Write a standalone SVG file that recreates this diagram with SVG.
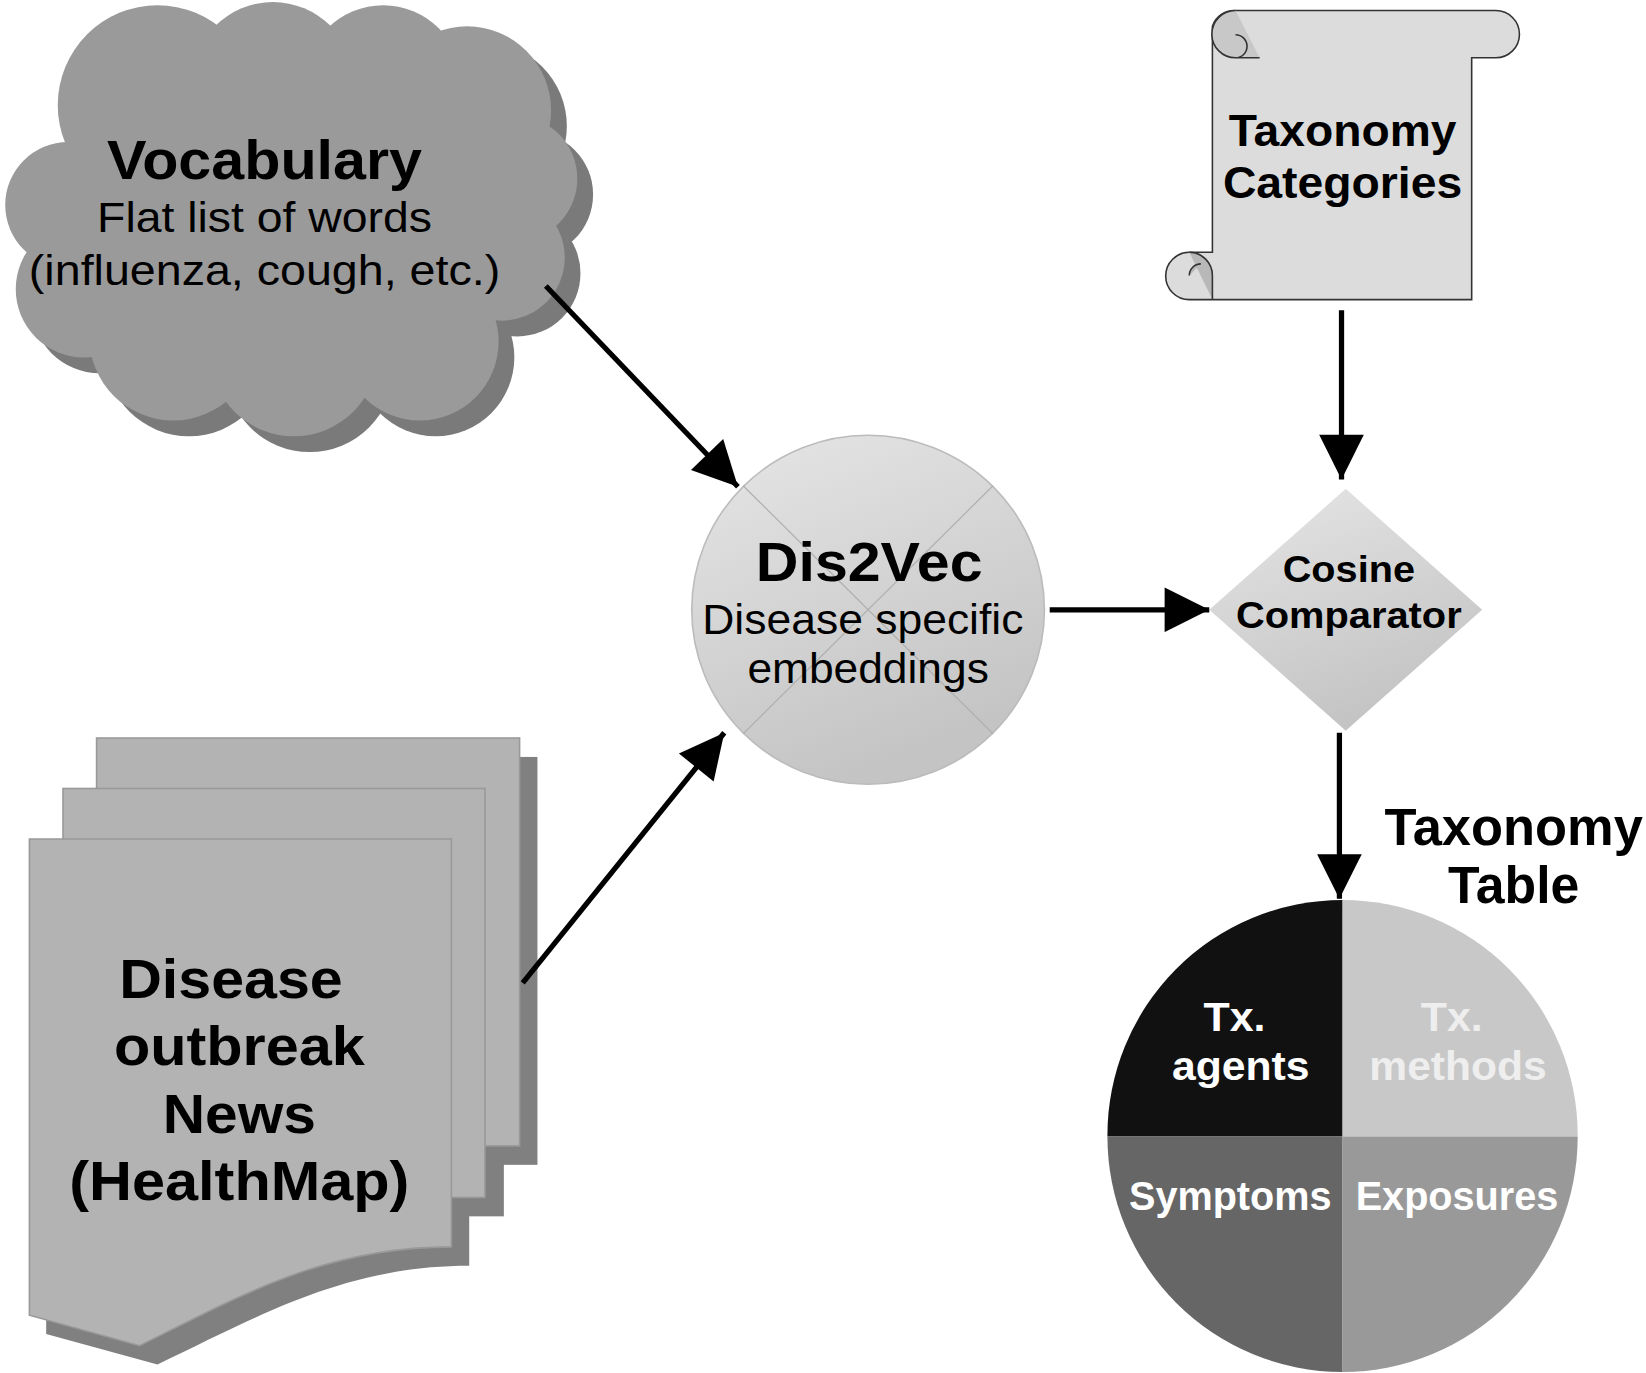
<svg xmlns="http://www.w3.org/2000/svg" width="1646" height="1373" viewBox="0 0 1646 1373">
<style>
text{font-family:"Liberation Sans",Arial,sans-serif;text-anchor:middle}
.b{font-weight:bold}
.ln{stroke:#000;stroke-width:5;fill:none}
.page{fill:#b3b3b3;stroke:#999;stroke-width:1.5}
.sh{fill:#808080}
</style>
<defs>
<marker id="ah" viewBox="0 0 10 10" refX="10" refY="5" markerWidth="9.5" markerHeight="8.5" markerUnits="strokeWidth" orient="auto"><path d="M0,0L10,5L0,10z" fill="#000"/></marker>
<linearGradient id="g1" x1="0" y1="0" x2="0.4" y2="1"><stop offset="0" stop-color="#e6e6e6"/><stop offset="1" stop-color="#c4c4c4"/></linearGradient>
<g id="cloudshape">
<circle cx="150" cy="100" r="95"/><circle cx="260" cy="80" r="78"/><circle cx="365" cy="80" r="75"/><circle cx="445" cy="105" r="80"/><circle cx="490" cy="170" r="60"/><circle cx="478" cy="245" r="60"/><circle cx="400" cy="325" r="75"/><circle cx="280" cy="335" r="80"/><circle cx="165" cy="320" r="80"/><circle cx="80" cy="275" r="65"/><circle cx="65" cy="195" r="60"/><ellipse cx="275" cy="210" rx="220" ry="150"/>
</g>
</defs>
<g transform="scale(1.0497,1.0513)">
<g id="vocabulary">
<use href="#cloudshape" transform="translate(15,15)" fill="#7a7a7a"/>
<use href="#cloudshape" fill="#9a9a9a"/>
<text x="252" y="170" class="b" font-size="52" textLength="300" lengthAdjust="spacingAndGlyphs">Vocabulary</text>
<text x="252" y="221" font-size="41" textLength="319" lengthAdjust="spacingAndGlyphs">Flat list of words</text>
<text x="252" y="271" font-size="41" textLength="449" lengthAdjust="spacingAndGlyphs">(influenza, cough, etc.)</text>
</g>
<g id="news">
<rect class="sh" x="109" y="720" width="403" height="388"/>
<rect class="sh" x="77" y="768" width="403" height="389"/>
<path class="sh" d="M44,816H447V1204C330,1204 250,1250 150,1298L44,1269Z"/>
<rect class="page" x="92" y="702" width="403" height="388"/>
<rect class="page" x="60" y="750" width="402" height="389"/>
<path class="page" d="M28,798H430V1186C310,1186 230,1232 133,1280L28,1251Z"/>
<g class="b" font-size="53">
<text x="220" y="949" textLength="213" lengthAdjust="spacingAndGlyphs">Disease</text>
<text x="228" y="1013" textLength="239" lengthAdjust="spacingAndGlyphs">outbreak</text>
<text x="228" y="1078" textLength="146" lengthAdjust="spacingAndGlyphs">News</text>
<text x="228" y="1141" textLength="324" lengthAdjust="spacingAndGlyphs">(HealthMap)</text>
</g>
</g>
<g id="dis2vec">
<ellipse cx="827" cy="580" rx="168" ry="166" fill="url(#g1)" stroke="#bbb" stroke-width="1.5"/>
<path d="M708,462L946,698M946,462L708,698" stroke="#b0b0b0" stroke-width="1.2"/>
<text class="b" font-size="53" x="828" y="553" textLength="216" lengthAdjust="spacingAndGlyphs">Dis2Vec</text>
<text font-size="41" x="822" y="603" textLength="306" lengthAdjust="spacingAndGlyphs">Disease specific</text>
<text font-size="41" x="827" y="650" textLength="230" lengthAdjust="spacingAndGlyphs">embeddings</text>
</g>
<g id="taxonomy-categories">
<path d="M1155,25V240H1133A22,22 0 0 0 1133,285H1402V55H1425A22,22 0 0 0 1425,10H1177A22,22 0 0 0 1155,25Z" fill="#dcdcdc" stroke="#333" stroke-width="1.5"/>
<path d="M1177,10A22,22 0 0 0 1177,55H1200M1177,55A11,11 0 0 0 1177,33A11,11 0 0 1 1188,44" fill="#c8c8c8" stroke="#333" stroke-width="1.5"/>
<path d="M1133,240A22,22 0 0 1 1155,262V285M1133,262A11,11 0 0 1 1144,251" fill="#b8b8b8" stroke="#333" stroke-width="1.5"/>
<text class="b" font-size="43" x="1279" y="139" textLength="217" lengthAdjust="spacingAndGlyphs">Taxonomy</text>
<text class="b" font-size="43" x="1279" y="188" textLength="228" lengthAdjust="spacingAndGlyphs">Categories</text>
</g>
<g id="cosine">
<path d="M1282,465L1412,580L1282,695L1152,580Z" fill="url(#g1)"/>
<text class="b" font-size="35" x="1285" y="554" textLength="126" lengthAdjust="spacingAndGlyphs">Cosine</text>
<text class="b" font-size="35" x="1285" y="597" textLength="215" lengthAdjust="spacingAndGlyphs">Comparator</text>
</g>
<g id="taxonomy-table">
<path d="M1279,1081V856A224,224 0 0 0 1055,1081Z" fill="#111"/>
<path d="M1279,1081V856A224,224 0 0 1 1503,1081Z" fill="#c8c8c8"/>
<path d="M1279,1081H1055A224,224 0 0 0 1279,1305Z" fill="#666"/>
<path d="M1279,1081H1503A224,224 0 0 1 1279,1305Z" fill="#999"/>
<g class="b" font-size="39" fill="#fff">
<text x="1176" y="981" textLength="59" lengthAdjust="spacingAndGlyphs">Tx.</text><text x="1182" y="1027" textLength="131" lengthAdjust="spacingAndGlyphs">agents</text>
<text x="1383" y="981" fill="#eee" textLength="59" lengthAdjust="spacingAndGlyphs">Tx.</text><text x="1389" y="1027" fill="#eee" textLength="169" lengthAdjust="spacingAndGlyphs">methods</text>
<text x="1172" y="1151" textLength="193" lengthAdjust="spacingAndGlyphs">Symptoms</text><text x="1388" y="1151" textLength="193" lengthAdjust="spacingAndGlyphs">Exposures</text>
</g>
<text class="b" font-size="49" x="1442" y="804" textLength="246" lengthAdjust="spacingAndGlyphs">Taxonomy</text>
<text class="b" font-size="49" x="1442" y="859" textLength="125" lengthAdjust="spacingAndGlyphs">Table</text>
</g>
<g id="connectors">
<path class="ln" marker-end="url(#ah)" d="M520,272L703,463"/>
<path class="ln" marker-end="url(#ah)" d="M498,935L690,697"/>
<path class="ln" marker-end="url(#ah)" d="M1000,580L1152,580"/>
<path class="ln" marker-end="url(#ah)" d="M1278,295L1278,456"/>
<path class="ln" marker-end="url(#ah)" d="M1276,697L1276,855"/>
</g>
</g>
</svg>
